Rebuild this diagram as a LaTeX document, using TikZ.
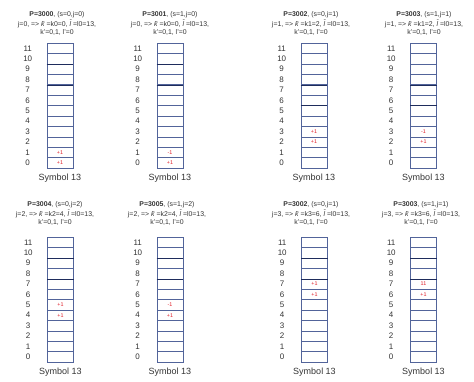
\documentclass[tikz,border=0pt]{standalone}
\usepackage{fontspec}
\setmainfont{Liberation Sans}
\usetikzlibrary{positioning}
\definecolor{boxline}{HTML}{52649A}
\definecolor{sepline}{HTML}{1E2C5C}
\definecolor{txtgray}{HTML}{333333}
\definecolor{deltared}{HTML}{E0202A}

\begin{document}
\begin{tikzpicture}[x=1pt, y=1pt, node distance=0pt,
  hdr/.style={font=\fontsize{6.9}{7}\selectfont, text=txtgray, inner sep=0pt, minimum height=8.5pt},
  cell/.style={draw=boxline, line width=0.6pt, minimum width=26pt, minimum height=10.4pt, inner sep=0pt},
  num/.style={font=\fontsize{8}{8}\selectfont, text=txtgray, inner sep=0pt},
  delta/.style={font=\fontsize{5.4}{5}\selectfont, text=deltared, inner sep=0pt},
  sym/.style={font=\fontsize{9}{9}\selectfont, text=txtgray, inner sep=0pt},
  sepl/.style={draw=sepline, line width=1.1pt}]
\useasboundingbox (0,0) rectangle (474,381);

% columns: panel / centre x / bottom y / the two heavy lines
\foreach \p/\x/\y/\sa/\sb in {1/60/213/10/8, 2/170/213/10/8, 3/314/213/8/6, 4/423.5/213/8/6,
    5/60.5/19/10/8, 6/170/19/10/8, 7/314.5/19/10/8, 8/423.5/19/10/8}{
  \foreach \i in {0,...,11}{
    \node[cell] (c\p-\i) at (\x, \y+5.2+10.4*\i) {};
    \node[num, xshift=-19pt] (n\p-\i) at (c\p-\i.west) {\i};
  }
  \draw[sepl] (c\p-\sa.south west) -- (c\p-\sa.south east);
  \draw[sepl] (c\p-\sb.south west) -- (c\p-\sb.south east);
  \node[sym, below=5pt of c\p-0] (s\p) {Symbol 13};
}

% headings, top row
\node[hdr] (h1a) at (57,366) {\textbf{P=3000}, (s=0,j=0)};
\node[hdr, below=of h1a] (h1b) {j=0, => {\itshape\=k} =k0=0, {\itshape\=l} =l0=13,};
\node[hdr, below=of h1b] (h1c) {k'=0,1, l'=0};
\node[hdr] (h2a) at (170,366) {\textbf{P=3001}, (s=1,j=0)};
\node[hdr, below=of h2a] (h2b) {j=0, => {\itshape\=k} =k0=0, {\itshape\=l} =l0=13,};
\node[hdr, below=of h2b] (h2c) {k'=0,1, l'=0};
\node[hdr] (h3a) at (311,366) {\textbf{P=3002}, (s=0,j=1)};
\node[hdr, below=of h3a] (h3b) {j=1, => {\itshape\=k} =k1=2, {\itshape\=l} =l0=13,};
\node[hdr, below=of h3b] (h3c) {k'=0,1, l'=0};
\node[hdr] (h4a) at (424,366) {\textbf{P=3003}, (s=1,j=1)};
\node[hdr, below=of h4a] (h4b) {j=1, => {\itshape\=k} =k1=2, {\itshape\=l} =l0=13,};
\node[hdr, below=of h4b] (h4c) {k'=0,1, l'=0};

% headings, bottom row
\node[hdr] (h5a) at (55,176) {\textbf{P=3004}, (s=0,j=2)};
\node[hdr, below=of h5a] (h5b) {j=2, => {\itshape\=k} =k2=4, {\itshape\=l} =l0=13,};
\node[hdr, below=of h5b] (h5c) {k'=0,1, l'=0};
\node[hdr] (h6a) at (167,176) {\textbf{P=3005}, (s=1,j=2)};
\node[hdr, below=of h6a] (h6b) {j=2, => {\itshape\=k} =k2=4, {\itshape\=l} =l0=13,};
\node[hdr, below=of h6b] (h6c) {k'=0,1, l'=0};
\node[hdr] (h7a) at (311,176) {\textbf{P=3002}, (s=0,j=1)};
\node[hdr, below=of h7a] (h7b) {j=3, => {\itshape\=k} =k3=6, {\itshape\=l} =l0=13,};
\node[hdr, below=of h7b] (h7c) {k'=0,1, l'=0};
\node[hdr] (h8a) at (421,176) {\textbf{P=3003}, (s=1,j=1)};
\node[hdr, below=of h8a] (h8b) {j=3, => {\itshape\=k} =k3=6, {\itshape\=l} =l0=13,};
\node[hdr, below=of h8b] (h8c) {k'=0,1, l'=0};

% counter updates
\node[delta] (d1a) at (c1-1) {+1};
\node[delta] (d1b) at (c1-0) {+1};
\node[delta] (d2a) at (c2-1) {-1};
\node[delta] (d2b) at (c2-0) {+1};
\node[delta] (d3a) at (c3-3) {+1};
\node[delta] (d3b) at (c3-2) {+1};
\node[delta] (d4a) at (c4-3) {-1};
\node[delta] (d4b) at (c4-2) {+1};
\node[delta] (d5a) at (c5-5) {+1};
\node[delta] (d5b) at (c5-4) {+1};
\node[delta] (d6a) at (c6-5) {-1};
\node[delta] (d6b) at (c6-4) {+1};
\node[delta] (d7a) at (c7-7) {+1};
\node[delta] (d7b) at (c7-6) {+1};
\node[delta] (d8a) at (c8-7) {11};
\node[delta] (d8b) at (c8-6) {+1};
\end{tikzpicture}
\end{document}
